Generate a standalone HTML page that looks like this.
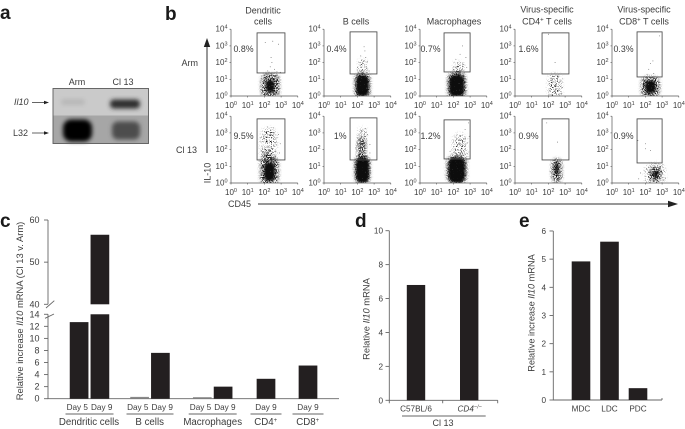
<!DOCTYPE html>
<html lang="en">
<head>
<meta charset="utf-8">
<title>Il10 expression figure</title>
<style>
html,body{margin:0;padding:0;background:#fff;width:685px;height:429px;overflow:hidden}
svg{display:block;font-family:"Liberation Sans",sans-serif;fill:#3c3c3c;filter:blur(0.3px)}
svg text{stroke:none}
.letter{font-weight:bold;font-size:19px;fill:#1a1a1a}
.t{font-size:9px}
.s{font-size:8.2px}
.big{font-size:9.7px}
.i{font-style:italic}
</style>
</head>
<body>
<svg id="fig" width="685" height="429" viewBox="0 0 685 429" xmlns="http://www.w3.org/2000/svg">
<defs>
<filter id="blot" x="-50%" y="-50%" width="200%" height="200%"><feGaussianBlur stdDeviation="2"/></filter>
<filter id="speck-solid" x="-30%" y="-30%" width="160%" height="160%">
<feTurbulence type="fractalNoise" baseFrequency="0.9" numOctaves="2" seed="4" result="n"/>
<feColorMatrix in="n" type="matrix" values="0 0 0 0 0 0 0 0 0 0 0 0 0 0 0 7 0 0 0 -0.9" result="m"/>
<feGaussianBlur in="SourceGraphic" stdDeviation="1" result="b"/>
<feComposite in="b" in2="m" operator="in"/>
</filter>
<filter id="speck-mid" x="-30%" y="-30%" width="160%" height="160%">
<feTurbulence type="fractalNoise" baseFrequency="0.85" numOctaves="2" seed="9" result="n"/>
<feColorMatrix in="n" type="matrix" values="0 0 0 0 0 0 0 0 0 0 0 0 0 0 0 9 0 0 0 -4" result="m"/>
<feGaussianBlur in="SourceGraphic" stdDeviation="1.6" result="b"/>
<feComposite in="b" in2="m" operator="in"/>
</filter>
<filter id="speck-haze" x="-30%" y="-30%" width="160%" height="160%">
<feTurbulence type="fractalNoise" baseFrequency="0.8" numOctaves="2" seed="15" result="n"/>
<feColorMatrix in="n" type="matrix" values="0 0 0 0 0 0 0 0 0 0 0 0 0 0 0 10 0 0 0 -5.6" result="m"/>
<feGaussianBlur in="SourceGraphic" stdDeviation="2" result="b"/>
<feComposite in="b" in2="m" operator="in"/>
</filter>
</defs>

<text class="letter" x="0" y="19">a</text>
<text class="letter" x="165" y="20">b</text>
<text class="letter" x="0" y="227">c</text>
<text class="letter" x="355" y="227">d</text>
<text class="letter" x="519" y="227">e</text>

<g>
<text class="t" x="77" y="85" text-anchor="middle">Arm</text>
<text class="t" x="123" y="85" text-anchor="middle">Cl 13</text>
<text class="t i" x="14" y="105">Il10</text>
<text class="t" x="13" y="136">L32</text>
<path d="M32 102.5H45M32 133H45" stroke="#333" stroke-width="0.8"/>
<path d="M49 102.5l-5-1.7v3.4zM49 133l-5-1.7v3.4z" fill="#222"/>
<rect x="53" y="88.5" width="95.5" height="27" fill="#cacaca"/>
<rect x="53" y="115.5" width="95.5" height="28" fill="#a6a6a6"/>
<rect x="61" y="99" width="24" height="6" rx="3" fill="#b8b8b8" filter="url(#blot)"/>
<rect x="110" y="99.5" width="30" height="9" rx="4" fill="#2e2e2e" filter="url(#blot)"/>
<rect x="63" y="119.5" width="29" height="22" rx="8" fill="#050505" filter="url(#blot)"/>
<rect x="112" y="121.5" width="28" height="18" rx="6" fill="#4e4e4e" filter="url(#blot)"/>
<rect x="53" y="88.5" width="95.5" height="55" fill="none" stroke="#5a5a5a" stroke-width="0.9"/>
</g>

<g>
<text class="t" x="198" y="66" text-anchor="end">Arm</text>
<text class="t" x="197" y="153" text-anchor="end">Cl 13</text>
<text class="t" transform="translate(210.5,173) rotate(-90)" text-anchor="middle">IL-10</text>
<text class="t" x="228" y="207">CD45</text>
<path d="M207 153V46" stroke="#757575" stroke-width="1.5" fill="none"/>
<path d="M207 38l-3.2 9h6.4z" fill="#222"/>
<path d="M258 204H669" stroke="#757575" stroke-width="1.5" fill="none"/>
<path d="M678 204l-10-3.2v6.4z" fill="#222"/>
<text class="t" x="263" y="13.5" text-anchor="middle">Dendritic</text>
<text class="t" x="263" y="24.5" text-anchor="middle">cells</text>
<text class="t" x="356" y="24.5" text-anchor="middle">B cells</text>
<text class="t" x="454" y="24.5" text-anchor="middle">Macrophages</text>
<text class="t" x="547" y="12.5" text-anchor="middle">Virus-specific</text>
<text class="t" x="547" y="24.5" text-anchor="middle">CD4<tspan font-size="6" dy="-3">+</tspan><tspan dy="3"> T cells</tspan></text>
<text class="t" x="644" y="12.5" text-anchor="middle">Virus-specific</text>
<text class="t" x="644" y="24.5" text-anchor="middle">CD8<tspan font-size="6" dy="-3">+</tspan><tspan dy="3"> T cells</tspan></text>
</g>

<g id="flow"></g>
<g id="chartC"></g>
<g id="chartD"></g>
<g id="chartE"></g>
</svg>

<script>
// ---- Panel b: flow cytometry data (all values in log10 decades) ----
const flowPanelNames = ['dendritic-arm','bcell-arm','macrophage-arm','cd4-arm','cd8-arm','dendritic-cl13','bcell-cl13','macrophage-cl13','cd4-cl13','cd8-cl13'];
const flowTickLabels = ['0','1','2','3','4'];
const flowPercents = ['0.8%','0.4%','0.7%','1.6%','0.3%','9.5%','1%','1.2%','0.9%','0.9%'];
// gate: low x, high x, low y, high y
const flowGates = [
 [1.56,3.23,1.38,3.78],[1.56,3.17,1.32,3.84],[1.44,3.0,1.44,3.78],[1.62,3.23,1.32,3.78],[1.5,3.0,1.14,3.84],
 [1.56,3.23,1.38,3.84],[1.56,3.17,1.38,3.9],[1.44,3.0,1.44,3.78],[1.62,3.23,1.38,3.84],[1.5,3.0,1.2,3.84]
];
// populations: centre x, centre y, radius x, radius y, density
const flowClouds = [
 [[2.35,0.62,0.55,0.72,'mid'],[2.35,0.6,0.25,0.35,'solid']],
 [[2.3,0.62,0.46,0.8,'mid'],[2.3,0.62,0.38,0.62,'solid'],[2.3,1.7,0.22,0.45,'haze']],
 [[2.2,0.62,0.55,0.8,'mid'],[2.2,0.62,0.45,0.65,'solid'],[2.3,1.6,0.28,0.4,'haze']],
 [[2.4,0.55,0.36,0.75,'haze']],
 [[2.3,0.55,0.55,0.6,'mid'],[2.3,0.55,0.3,0.38,'solid']],
 [[2.3,0.75,0.55,0.85,'mid'],[2.3,0.68,0.32,0.55,'solid'],[2.25,2.2,0.42,1.05,'haze'],[2.2,1.6,0.16,0.3,'mid']],
 [[2.3,0.8,0.46,0.85,'mid'],[2.3,0.78,0.4,0.76,'solid'],[2.25,2.0,0.24,0.7,'mid'],[2.3,2.7,0.22,0.55,'haze']],
 [[2.2,0.8,0.6,0.85,'mid'],[2.2,0.78,0.5,0.76,'solid'],[2.4,2.0,0.38,0.9,'haze']],
 [[2.5,0.75,0.3,0.7,'mid'],[2.5,0.85,0.1,0.35,'solid']],
 [[2.58,0.5,0.55,0.62,'haze'],[2.6,0.55,0.3,0.4,'mid'],[2.62,0.5,0.12,0.2,'solid']]
];
const flowDots = [
 [[2.05,3.2],[2.5,3.28],[2.85,3.1],[2.4,2.3],[2.45,2.0],[2.35,1.75],[2.6,1.6],[2.2,1.5],[2.75,1.45],[2.95,1.42]],
 [[2.4,2.95],[2.45,2.7],[2.2,2.4],[2.5,2.3],[2.1,2.0],[2.35,1.95],[2.6,2.05],[2.0,1.7],[2.3,1.55],[2.55,1.65],[2.7,1.5]],
 [[2.55,3.0],[2.4,2.5],[2.75,2.3],[2.15,2.2],[2.6,1.9],[2.3,1.75],[2.8,1.7],[2.0,1.6],[2.5,1.55]],
 [[2.4,2.0],[2.0,3.7],[2.45,1.25],[2.6,1.15],[2.2,1.05],[2.75,0.95],[2.05,0.75],[2.85,0.5],[2.3,0.25],[2.7,0.15]],
 [[2.85,3.6],[2.3,1.95],[2.2,1.6],[2.5,1.35],[2.1,1.3],[2.45,2.1]],
 [[2.2,3.35],[2.55,3.3],[2.85,2.9],[1.9,2.6],[2.95,2.35],[2.7,2.7],[1.85,1.9],[2.9,1.8]],
 [[2.25,3.15],[2.5,3.25],[2.6,2.9],[2.0,2.7],[2.75,2.3],[1.9,2.1],[2.75,1.8]],
 [[2.9,3.6],[2.7,3.2],[2.95,2.8],[2.2,2.6],[2.75,2.35],[1.8,1.9],[2.85,1.75],[2.1,1.8]],
 [[1.9,3.6],[2.55,2.45],[2.45,1.25],[2.65,1.2],[2.85,0.4],[2.1,0.7],[2.2,0.3]],
 [[1.55,2.55],[2.0,2.35],[2.3,1.95],[2.0,2.05],[3.05,1.1],[1.7,0.6],[1.6,0.25],[3.2,0.3]]
];

// ---- Panel c data ----
const cCategories = ['Day 5','Day 9','Day 5','Day 9','Day 5','Day 9','Day 9','Day 9'];
const cValues = [12.7,56.5,0.3,7.6,0.25,2,3.3,5.5];
const cGroupSizes = [2,2,2,1,1];
const cGroups = ['Dendritic cells','B cells','Macrophages','CD4','CD8'];
const cLowerTicks = [0,2,4,6,8,10,12,14];
const cUpperTicks = [40,50,60];

// ---- Panel d data ----
const dCategories = ['C57BL/6','CD4'];
const dValues = [6.8,7.75];
const dTicks = [0,2,4,6,8,10];

// ---- Panel e data ----
const eCategories = ['MDC','LDC','PDC'];
const eValues = [4.92,5.62,0.42];
const eTicks = [0,1,2,3,4,5,6];

const NS = 'http://www.w3.org/2000/svg';
function mk(parent, tag, attrs, text) {
  const el = document.createElementNS(NS, tag);
  for (const k in attrs) el.setAttribute(k, attrs[k]);
  if (text !== undefined) el.textContent = text;
  parent.appendChild(el);
  return el;
}

// ---------- Flow plots ----------
const flowRoot = document.getElementById('flow');
const defs = document.querySelector('defs');
const colOrigins = [231, 324, 420, 515, 612];
const rowBases = [96, 183];
const DEC = 16.7;
flowPanelNames.forEach(function (name, idx) {
  const col = idx % 5, row = Math.floor(idx / 5);
  const sx = function (v) { return colOrigins[col] + v * DEC; };
  const sy = function (v) { return rowBases[row] - v * DEC; };
  const g = mk(flowRoot, 'g', {});
  
  

  const clip = mk(defs, 'clipPath', { id: 'clip' + idx });
  mk(clip, 'rect', { x: sx(0), y: sy(4), width: DEC * 4, height: DEC * 4 });
  const marks = mk(g, 'g', { 'clip-path': 'url(#clip' + idx + ')' });
  
  

  flowClouds[idx].forEach(function (c) {
    const e = mk(marks, 'rect', {
      x: sx(c[0] - c[2]), y: sy(c[1] + c[3]), width: c[2] * 2 * DEC, height: c[3] * 2 * DEC,
      rx: c[2] * DEC * 0.75, ry: c[3] * DEC * 0.55,
      fill: '#0c0c0c', filter: 'url(#speck-' + c[4] + ')'
    });
    
    
  });
  flowDots[idx].forEach(function (d) {
    const p = mk(marks, 'circle', { cx: sx(d[0]), cy: sy(d[1]), r: 0.42, fill: '#555' });
    
    
  });

  const gate = flowGates[idx];
  const r = mk(g, 'rect', {
    x: sx(gate[0]), y: sy(gate[3]), width: (gate[1] - gate[0]) * DEC, height: (gate[3] - gate[2]) * DEC,
    fill: 'none', stroke: '#4a4a4a', 'stroke-width': 0.85
  });
  
  

  const axes = mk(g, 'path', {
    d: 'M' + sx(0) + ' ' + sy(4) + 'V' + sy(0) + 'H' + sx(4),
    fill: 'none', stroke: '#555', 'stroke-width': 0.7
  });
  
  

  flowTickLabels.forEach(function (exp, i) {
    const xt = mk(g, 'path', { d: 'M' + sx(i) + ' ' + sy(0) + 'v1.5', stroke: '#555', 'stroke-width': 0.6 });
    
    
    const yt = mk(g, 'path', { d: 'M' + sx(0) + ' ' + sy(i) + 'h-1.5', stroke: '#555', 'stroke-width': 0.6 });
    
    
    const xl = mk(g, 'text', { x: sx(i), y: sy(0) + 12, 'text-anchor': 'middle', 'font-size': 8 });
    
    
    xl.textContent = '10';
    mk(xl, 'tspan', { dy: -3, 'font-size': 5.5 }, exp);
    const yl = mk(g, 'text', { x: sx(0) - 3.5, y: sy(i) + 2.5, 'text-anchor': 'end', 'font-size': 8 });
    
    
    yl.textContent = '10';
    mk(yl, 'tspan', { dy: -3, 'font-size': 5.5 }, exp);
  });

  const pct = mk(g, 'text', { x: sx(gate[0]) - 3.5, y: sy(0) - 44, 'text-anchor': 'end', 'font-size': 8.8 }, flowPercents[idx]);
  
  
});

// ---------- Chart helpers ----------
function axisLine(parent, d, name) {
  const p = mk(parent, 'path', { d: d, fill: 'none', stroke: '#666', 'stroke-width': 0.9 });
  
  
  return p;
}
function label(parent, x, y, anchor, cls, txt, name) {
  const t = mk(parent, 'text', { x: x, y: y, 'text-anchor': anchor, 'class': cls }, txt);
  
  
  return t;
}
function bar(parent, x, w, yTop, yBottom, fill, name) {
  const b = mk(parent, 'rect', { x: x, y: yTop, width: w, height: Math.max(0, yBottom - yTop), fill: fill });
  
  
  return b;
}

// ---------- Chart c ----------
(function () {
  const root = document.getElementById('chartC');
  const x0 = 48, yZero = 398.7;
  const lowScale = function (v) { return yZero - v * 6.03; };
  const highScale = function (v) { return 304.3 - (v - 40) * 4.215; };
  axisLine(root, 'M' + x0 + ' ' + lowScale(14) + 'V' + yZero + 'H339', 'y-axis-lower-and-x-axis');
  axisLine(root, 'M' + x0 + ' ' + highScale(40) + 'V' + highScale(60), 'y-axis-upper');
  axisLine(root, 'M45 318.3L54 314M46 308L54.3 300.7', 'axis-break-marks');
  cLowerTicks.forEach(function (v) {
    axisLine(root, 'M44 ' + lowScale(v) + 'H' + x0, 'y-tick');
    label(root, 39.5, lowScale(v) + 3, 'end', 't', String(v), 'y-tick-label');
  });
  cUpperTicks.forEach(function (v) {
    axisLine(root, 'M44 ' + highScale(v) + 'H' + x0, 'y-tick');
    label(root, 39.5, highScale(v) + 3, 'end', 't', String(v), 'y-tick-label');
  });

  const groupCentres = [89.5, 150, 212.7, 266, 308];
  const groupLabelCentres = [89, 149.7, 212.7, 265.7, 307.7];
  const groupHalf = [24, 23.5, 24, 15.5, 15.5];
  const barW = 18.7, pitch = 20.8, labelPitch = 24.4;
  let k = 0;
  cGroupSizes.forEach(function (size, gi) {
    const gc = groupCentres[gi];
    for (let i = 0; i < size; i++, k++) {
      const off = i - (size - 1) / 2;
      const cx = gc + off * pitch;
      const v = cValues[k];
      const fill = v < 1 ? '#8a8a8a' : '#231f20';
      if (v > 14) {
        bar(root, cx - barW / 2, barW, lowScale(14), yZero, fill, 'bar-lower-segment');
        bar(root, cx - barW / 2, barW, highScale(v), highScale(40), fill, 'bar-upper-segment');
      } else {
        bar(root, cx - barW / 2, barW, lowScale(v), yZero, fill, 'bar');
      }
      label(root, gc + off * labelPitch, 410, 'middle', 's', cCategories[k], 'x-category-label');
    }
    axisLine(root, 'M' + (gc - groupHalf[gi]) + ' 414H' + (gc + groupHalf[gi]), 'group-underline');
    const gl = label(root, groupLabelCentres[gi], 425, 'middle', 'big', cGroups[gi], 'group-label');
    if (cGroups[gi].indexOf('CD') === 0) {
      mk(gl, 'tspan', { dy: -3, 'font-size': 6 }, '+');
    }
  });

  const title = mk(root, 'text', { transform: 'translate(23,311) rotate(-90)', 'text-anchor': 'middle', 'font-size': 9.4 });
  
  
  mk(title, 'tspan', {}, 'Relative increase ');
  mk(title, 'tspan', { 'class': 'i' }, 'Il10');
  mk(title, 'tspan', {}, ' mRNA (Cl 13 v. Arm)');
})();

// ---------- Chart d ----------
(function () {
  const root = document.getElementById('chartD');
  const x0 = 389.3, yZero = 400.3;
  const sy = function (v) { return yZero - v * 16.96; };
  const sx = function (i) { return 416 + i * 53.2; };
  axisLine(root, 'M' + x0 + ' ' + sy(10) + 'V' + yZero + 'H497.7', 'axes');
  axisLine(root, 'M' + x0 + ' ' + yZero + 'v3M442.7 ' + yZero + 'v3M497.7 ' + yZero + 'v3', 'x-ticks');
  dTicks.forEach(function (v) {
    axisLine(root, 'M385.5 ' + sy(v) + 'H' + x0, 'y-tick');
    label(root, 383, sy(v) + 3, 'end', 's', String(v), 'y-tick-label');
  });
  dValues.forEach(function (v, i) {
    bar(root, sx(i) - 9.2, 18.4, sy(v), yZero, '#231f20', 'bar');
  });
  label(root, sx(0), 411.5, 'middle', 's', dCategories[0], 'x-category-label');
  const cd4 = label(root, sx(1) + 0.5, 411.5, 'middle', 's i', dCategories[1], 'x-category-label');
  mk(cd4, 'tspan', { dy: -3, 'font-size': 5.5 }, '\u2212/\u2212');
  axisLine(root, 'M402 416H485.7', 'group-underline');
  label(root, 443, 426, 'middle', 't', 'Cl 13', 'group-label');
  const title = mk(root, 'text', { transform: 'translate(369.5,319) rotate(-90)', 'text-anchor': 'middle', 'font-size': 9.4 });
  
  
  mk(title, 'tspan', {}, 'Relative ');
  mk(title, 'tspan', { 'class': 'i' }, 'Il10');
  mk(title, 'tspan', {}, ' mRNA');
})();

// ---------- Chart e ----------
(function () {
  const root = document.getElementById('chartE');
  const x0 = 553.3, yZero = 400;
  const sy = function (v) { return yZero - v * 28.17; };
  const sx = function (i) { return 581 + i * 28.5; };
  axisLine(root, 'M' + x0 + ' ' + sy(6) + 'V' + yZero + 'H662', 'axes');
  axisLine(root, 'M662 ' + yZero + 'v-2', 'x-axis-end-tick');
  eTicks.forEach(function (v) {
    axisLine(root, 'M549.5 ' + sy(v) + 'H' + x0, 'y-tick');
    label(root, 546, sy(v) + 3, 'end', 's', String(v), 'y-tick-label');
  });
  eValues.forEach(function (v, i) {
    bar(root, sx(i) - 9.3, 18.6, sy(v), yZero, '#231f20', 'bar');
    label(root, sx(i), 411.5, 'middle', 's', eCategories[i], 'x-category-label');
  });
  const title = mk(root, 'text', { transform: 'translate(534.5,313) rotate(-90)', 'text-anchor': 'middle', 'font-size': 9.2 });
  
  
  mk(title, 'tspan', {}, 'Relative increase ');
  mk(title, 'tspan', { 'class': 'i' }, 'Il10');
  mk(title, 'tspan', {}, ' mRNA');
})();
</script>
</body>
</html>
